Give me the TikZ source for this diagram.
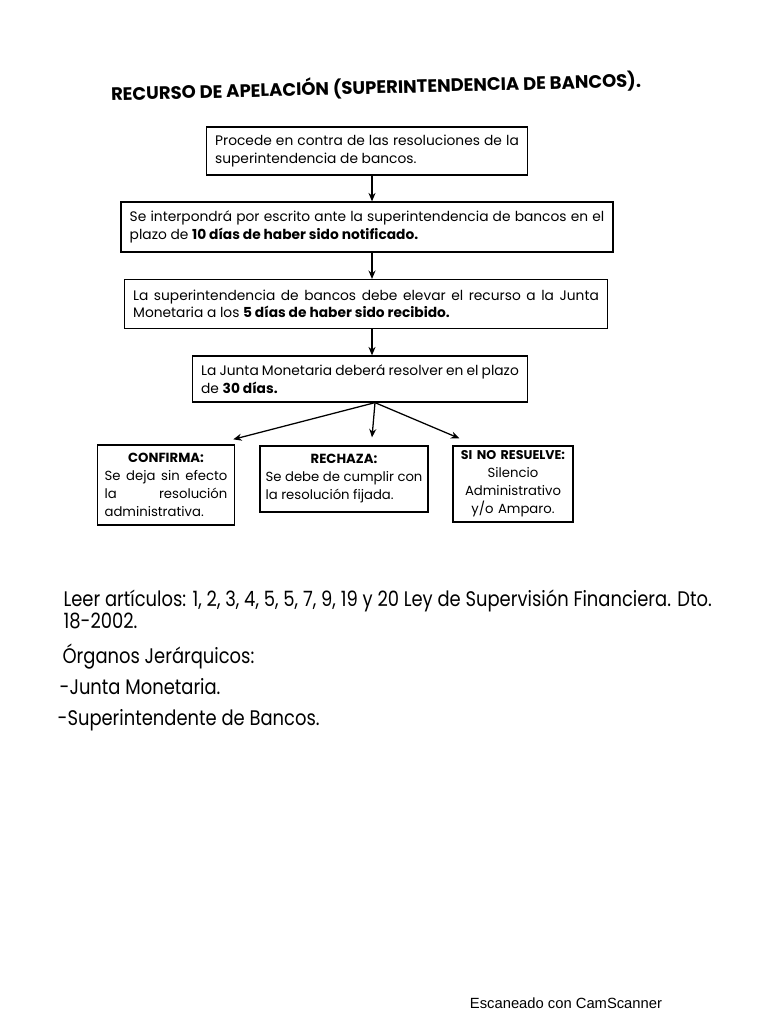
\documentclass[tikz,border=0pt]{standalone}
\usepackage{fontspec}
\setmainfont{Poppins}
\newfontfamily\notefont[FakeStretch=0.85]{Poppins}
\newfontfamily\scanfont{Liberation Sans}
\usetikzlibrary{arrows.meta,calc}

\begin{document}
\begin{tikzpicture}[
        x=0.025cm, y=-0.025cm,
        line width=0.9pt,
        stepbox/.style={draw, align=justify, inner xsep=0.22cm, inner ysep=0.1cm,
                        font=\fontsize{9.8}{12.5}\selectfont},
        outbox/.style={stepbox, font=\fontsize{9.4}{12.8}\selectfont},
        arrow/.style={-{Stealth[length=6pt, width=5pt]}, line width=0.9pt},
        notetext/.style={anchor=base west, inner sep=0pt, font=\notefont\fontsize{15}{18}\selectfont}
    ]

    \useasboundingbox (0,0) rectangle (768,1024);

    % ==========================================
    % TITLE
    % ==========================================
    \node[rotate=1.5, font=\bfseries\fontsize{12.8}{15}\selectfont] (title) at (376,87)
        {RECURSO DE APELACIÓN (SUPERINTENDENCIA DE BANCOS).};

    % ==========================================
    % MAIN CHAIN
    % ==========================================
    \node[stepbox, text width=7.59cm, minimum height=1.2cm] (procede) at (367,151)
        {Procede en contra de las resoluciones de la\linebreak superintendencia de bancos.};
    \node[stepbox, text width=11.86cm, minimum height=1.25cm] (interpone) at (367,227)
        {Se interpondrá por escrito ante la superintendencia de bancos en el\linebreak
         plazo de \textbf{10 días de haber sido notificado.}};
    \node[stepbox, text width=11.64cm, minimum height=1.22cm] (eleva) at (366,304)
        {La superintendencia de bancos debe elevar el recurso a la Junta\linebreak
         Monetaria a los \textbf{5 días de haber sido recibido.}};
    \node[stepbox, text width=7.94cm, minimum height=1.15cm] (junta) at (360,379)
        {La Junta Monetaria deberá resolver en el plazo\\ de \textbf{30 días.}};

    \coordinate (e1) at ($(procede.south)+(5,0)$);
    \coordinate (e2) at ($(interpone.south)+(5,0)$);
    \coordinate (e3) at ($(eleva.south)+(6,0)$);
    \draw[arrow] (e1) -- (e1 |- interpone.north);
    \draw[arrow] (e2) -- (e2 |- eleva.north);
    \draw[arrow] (e3) -- (e3 |- junta.north);

    % ==========================================
    % OUTCOMES
    % ==========================================
    \node[outbox, inner xsep=0.18cm, text width=3.07cm, minimum height=2.0cm] (confirma) at (166,485)
        {\hfill\textbf{CONFIRMA:}\hfill\null\\ Se deja sin efecto\linebreak la resolución\linebreak administrativa.};
    \node[outbox, inner xsep=0.14cm, text width=3.92cm, minimum height=1.65cm] (rechaza) at (344,479)
        {\hfill\textbf{RECHAZA:}\hfill\null\\ \mbox{Se debe de cumplir con}\\ la resolución fijada.};
    \node[outbox, align=center, inner xsep=0.05cm, text width=2.9cm, minimum height=1.9cm] (noresuelve) at (513,484)
        {\mbox{\fontsize{9}{12.8}\selectfont\bfseries SI NO RESUELVE:}\\ Silencio\\ Administrativo\\ y/o Amparo.};

    \coordinate (split) at ($(junta.south)+(15,0)$);
    \draw[arrow] (split) -- ($(confirma.north east)+(-2,-5)$);
    \draw[arrow] (split) -- ($(rechaza.north)+(28,-8)$);
    \draw[arrow] (split) -- ($(noresuelve.north west)+(7,-7)$);

    % ==========================================
    % NOTES
    % ==========================================
    \node[notetext] (leer) at (63,606)
        {Leer artículos: 1, 2, 3, 4, 5, 5, 7, 9, 19 y 20 Ley de Supervisión Financiera. Dto.};
    \node[notetext] (decreto) at (63,628) {18-2002.};
    \node[notetext] (organos) at (62,663) {Órganos Jerárquicos:};
    \node[notetext] (jm) at (59,694) {-Junta Monetaria.};
    \node[notetext] (sb) at (57,725) {-Superintendente de Bancos.};

    \node[font=\scanfont\fontsize{10.5}{12}\selectfont] (scanner) at (566,1003)
        {Escaneado con CamScanner};

\end{tikzpicture}
\end{document}
